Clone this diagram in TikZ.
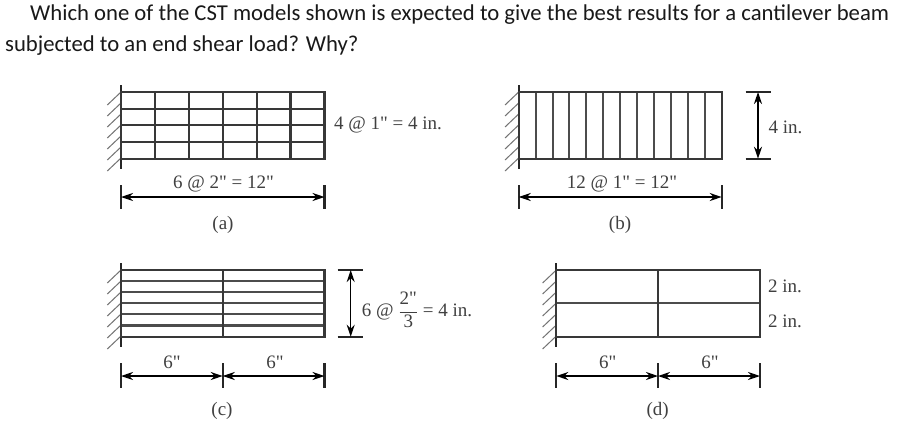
\documentclass[tikz,border=0pt]{standalone}
\usepackage{fontspec}
\setmainfont{Liberation Serif}[Ligatures=TeXOff]
\newfontfamily\headfont{Carlito}
\usetikzlibrary{arrows.meta}
\tikzset{
  meshline/.style={color=black!78,line width=2.05pt},
  thinmesh/.style={color=black!70,line width=2.05pt},
  wallline/.style={color=black!85,line width=2.05pt},
  hatchline/.style={color=black!55,line width=1pt},
  dimline/.style={color=black,line width=1.5pt,{Stealth[length=12pt,width=8pt]}-{Stealth[length=12pt,width=8pt]}},
  tickline/.style={color=black!85,line width=2.05pt},
  headtext/.style={anchor=west,inner sep=0pt,font=\fontsize{22.7}{26}\headfont,text=black!90},
  dimtext/.style={inner sep=0pt,font=\fontsize{19}{22}\selectfont,text=black!75}
}
% fixed wall with its hatching, #1 = x of wall, #2 = top of beam
\newcommand{\hatchwall}[2]{
  \draw[wallline](#1,#2-7) to (#1,#2+77);
  \foreach \k in {0,...,6}
    \draw[hatchline](#1,#2+\k*11) to (#1-13.7,#2+\k*11+13);
}
\begin{document}
\begin{tikzpicture}[x=1pt,y=-1pt]
  \useasboundingbox (0,0) rectangle (908,424);
  \fill[white] (0,0) rectangle (908,424);
  \node[headtext] (line1) at (30,15) {Which one of the CST models shown is expected to give the best results for a cantilever beam};
  \node[headtext] (line2) at (5,46) {subjected to an end shear load? Why?};
  % (a)
  \hatchwall{121}{92}
  \foreach \i in {1,...,5} \draw[meshline](121+\i*33.9,92) to (121+\i*33.9,158.7);
  \foreach \i in {1,...,3} \draw[meshline](121,92+\i*16.7) to (324.5,92+\i*16.7);
  \draw[meshline](121,92) rectangle (324.5,158.7);
  \coordinate (aL) at (121,197);
  \coordinate (aR) at (324.5,197);
  \draw[tickline](121,185) to (121,209);
  \draw[tickline](324.5,185) to (324.5,209);
  \draw[dimline](aL) to (aR);
  \node[dimtext] (alen) at (223.5,184) {6 @ 2" = 12"};
  \node[dimtext] (ah) at (388,125) {4 @ 1" = 4 in.};
  \node[dimtext] (acap) at (223,225) {(a)};
  % (b)
  \hatchwall{518.7}{92}
  \foreach \i in {1,...,11} \draw[thinmesh](518.7+\i*16.92,92) to (518.7+\i*16.92,158.7);
  \draw[meshline](518.7,92) rectangle (721.7,158.7);
  \coordinate (bL) at (518.7,197);
  \coordinate (bR) at (721.7,197);
  \draw[tickline](518.7,185) to (518.7,209);
  \draw[tickline](721.7,185) to (721.7,209);
  \draw[dimline](bL) to (bR);
  \coordinate (bT) at (758,92);
  \coordinate (bB) at (758,158.7);
  \draw[tickline](745.7,92) to (771,92);
  \draw[tickline](745.7,158.7) to (771,158.7);
  \draw[dimline](bT) to (bB);
  \node[dimtext] (blen) at (622,184) {12 @ 1" = 12"};
  \node[dimtext] (bh) at (785.5,127) {4 in.};
  \node[dimtext] (bcap) at (620,225) {(b)};
  % (c)
  \hatchwall{121}{270}
  \foreach \i in {1,...,5} \draw[thinmesh](121,270+\i*11.1) to (324.5,270+\i*11.1);
  \draw[meshline](222.7,270) to (222.7,336.7);
  \draw[meshline](121,270) rectangle (324.5,336.7);
  \coordinate (cL) at (121,376);
  \coordinate (cM) at (222.7,376);
  \coordinate (cR) at (324.5,376);
  \foreach \x in {121,222.7,324.5} \draw[tickline](\x,363) to (\x,388);
  \draw[dimline](cL) to (cM);
  \draw[dimline](cM) to (cR);
  \coordinate (cT) at (350.7,270);
  \coordinate (cB) at (350.7,336.7);
  \draw[tickline](337.7,270) to (363,270);
  \draw[tickline](337.7,336.7) to (363,336.7);
  \draw[dimline](cT) to (cB);
  \node[dimtext] (cleft) at (172,362.5) {6"};
  \node[dimtext] (cright) at (275,362.5) {6"};
  \node[dimtext] (ch) at (417,310) {6 @ $\displaystyle\frac{\mbox{2"}}{\mbox{3}}$ = 4 in.};
  \node[dimtext] (ccap) at (222,411) {(c)};
  % (d)
  \hatchwall{556.3}{270}
  \draw[thinmesh](556.3,303.4) to (760,303.4);
  \draw[meshline](658,270) to (658,336.7);
  \draw[meshline](556.3,270) rectangle (760,336.7);
  \coordinate (dL) at (556.3,376);
  \coordinate (dM) at (658,376);
  \coordinate (dR) at (760,376);
  \foreach \x in {556.3,658,760} \draw[tickline](\x,363) to (\x,388);
  \draw[dimline](dL) to (dM);
  \draw[dimline](dM) to (dR);
  \node[dimtext] (dleft) at (607.7,362.5) {6"};
  \node[dimtext] (dright) at (710,362.5) {6"};
  \node[dimtext] (dup) at (785,286) {2 in.};
  \node[dimtext] (dlow) at (785,321) {2 in.};
  \node[dimtext] (dcap) at (657.7,411) {(d)};
\end{tikzpicture}
\end{document}
